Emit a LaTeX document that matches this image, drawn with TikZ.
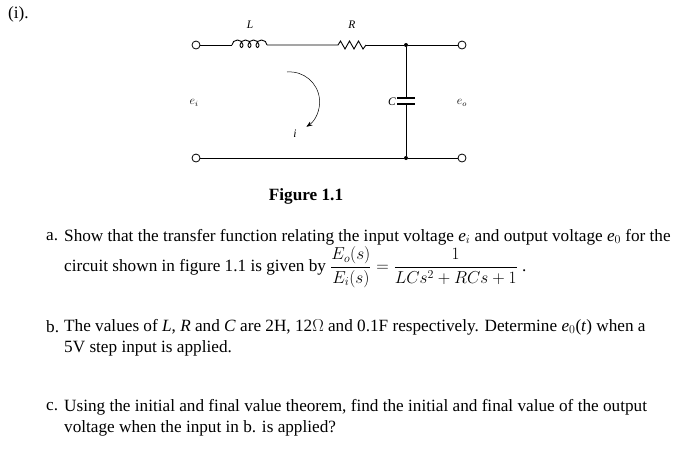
\documentclass[tikz,border=0pt]{standalone}
\usepackage{fontspec}
\setmainfont{Liberation Serif}
\usetikzlibrary{arrows.meta}
\begin{document}
\begin{tikzpicture}[x=1pt,y=-1pt,
  wire/.style={line width=0.9pt},
  term/.style={circle,draw,line width=0.8pt,fill=white,inner sep=0pt,minimum size=8pt},
  dot/.style={circle,fill,inner sep=0pt,minimum size=4pt},
  lbl/.style={font=\itshape\fontsize{11.5}{12}\selectfont,inner sep=0pt},
  txt/.style={anchor=west,inner sep=0pt,font=\fontsize{17.2}{20}\selectfont}]
\useasboundingbox (0,0) rectangle (692,459);
\node[term] (t1) at (196,45) {};
\node[term] (t2) at (196,158) {};
\node[term] (t3) at (462,45) {};
\node[term] (t4) at (462,158) {};
\node[dot] (j1) at (406,45) {};
\node[dot] (j2) at (406,158) {};
\coordinate (l1) at (232,45); \coordinate (l2) at (267,45);
\coordinate (r1) at (338,45); \coordinate (r2) at (366,45);
\coordinate (c1) at (406,98); \coordinate (c2) at (406,104);
\draw[wire] (t1) -- (l1);
\draw[wire] (l1) arc(180:360:5.5 and 5) arc(0:180:1.5 and 2.5) arc(180:360:5.5 and 5) arc(0:180:1.5 and 2.5) arc(180:360:5.5 and 5) arc(0:180:1.5 and 2.5) arc(180:360:5.5 and 5) -- (l2);
\draw[wire] (l2) -- (r1) -- ++(2.5,-4) -- ++(4.5,8) -- ++(4.5,-8) -- ++(4.5,8) -- ++(4.5,-8) -- ++(4.5,8) -- (r2);
\draw[wire] (r2) -- (j1) -- (t3);
\draw[wire] (j1) -- (c1);
\draw[wire] (c2) -- (j2);
\draw[line width=1.2pt] ([xshift=-9pt]c1) -- ([xshift=9pt]c1);
\draw[line width=1.2pt] ([xshift=-9pt]c2) -- ([xshift=9pt]c2);
\draw[wire] (t2) -- (j2) -- (t4);
\draw[line width=0.5pt,-{Stealth[length=6pt]}] (287,72) arc(-95:56:30);
\node[lbl] (L) at (250,25) {L};
\node[lbl] (R) at (352,25) {R};
\node[lbl] (ei) at (194,103) {$e_i$};
\node[lbl] (C) at (392,102) {C};
\node[lbl] (eo) at (462,103) {$e_o$};
\node[lbl] (i) at (295,134) {i};
\node[txt] (h) at (8,14) {(i).};
\node[inner sep=0pt,font=\bfseries\fontsize{17.2}{20}\selectfont] (fig) at (306,196) {Figure 1.1};
\node[txt] (a) at (46,237) {a.};
\node[txt] (a1) at (64,237) {Show that the transfer function relating the input voltage \textit{e$_i$} and output voltage \textit{e$_0$} for the};
\node[txt] (a2) at (64,267) {circuit shown in figure 1.1 is given by $\displaystyle\frac{E_o(s)}{E_i(s)}=\frac{1}{LCs^2+RCs+1}$ .};
\node[txt] (b) at (46,327) {b.};
\node[txt] (b1) at (64,327) {The values of \textit{L}, \textit{R} and \textit{C} are 2H, 12$\Omega$ and 0.1F respectively. Determine \textit{e$_0$}(\textit{t}) when a};
\node[txt] (b2) at (64,348) {5V step input is applied.};
\node[txt] (c) at (46,407) {c.};
\node[txt] (c1t) at (64,407) {Using the initial and final value theorem, find the initial and final value of the output};
\node[txt] (c2t) at (64,428) {voltage when the input in b. is applied?};
\end{tikzpicture}
\end{document}
